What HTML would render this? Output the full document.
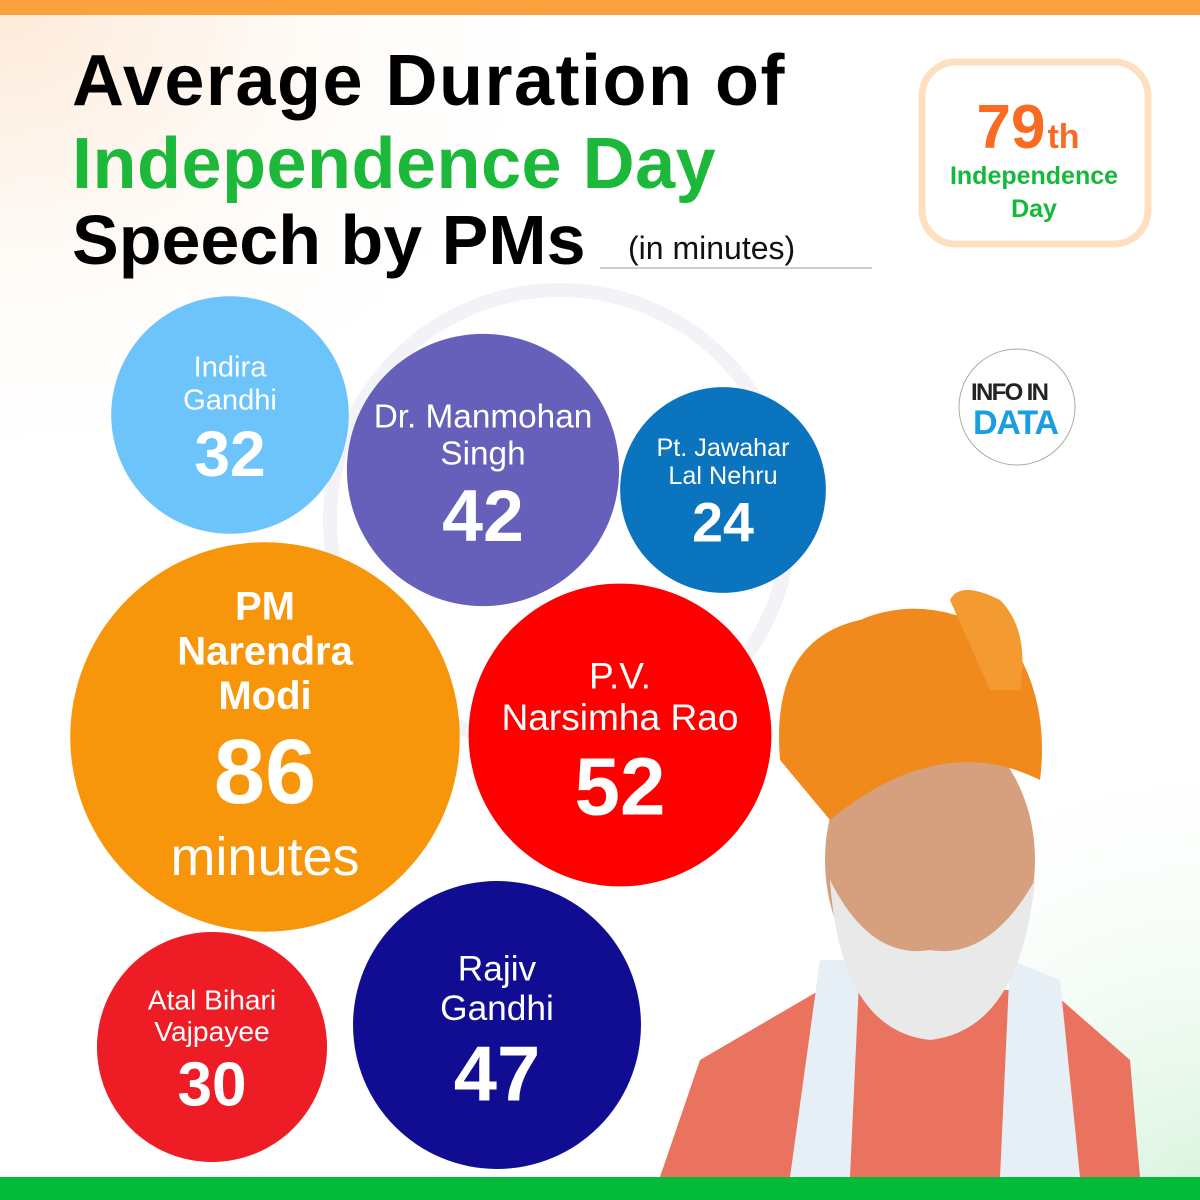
<!DOCTYPE html>
<html><head><meta charset="utf-8"><style>
body{margin:0;width:1200px;height:1200px;overflow:hidden;background:#fff;font-family:"Liberation Sans",sans-serif;position:relative}
.t{position:absolute;left:72px;font-weight:900;font-size:72px;letter-spacing:1.5px;line-height:1;white-space:nowrap}
</style></head><body>
<svg width="1200" height="1200" style="position:absolute;left:0;top:0">
<defs>
<radialGradient id="sf" cx="0" cy="0" r="1"><stop offset="0" stop-color="#fde9d6"/><stop offset="1" stop-color="#fff" stop-opacity="0"/></radialGradient>
<radialGradient id="gr" cx="1" cy="1" r="1"><stop offset="0" stop-color="#d8f3dd"/><stop offset="1" stop-color="#fff" stop-opacity="0"/></radialGradient>
</defs>
<rect width="1200" height="1200" fill="#fff"/>
<rect x="0" y="0" width="600" height="500" fill="url(#sf)"/>
<rect x="700" y="700" width="500" height="500" fill="url(#gr)"/>
<circle cx="560" cy="520" r="230" fill="none" stroke="#f3f3f7" stroke-width="14"/>
<rect x="0" y="0" width="1200" height="15" fill="#fba23f"/>
<rect x="0" y="1177" width="1200" height="23" fill="#03bb38"/>
<line x1="600" y1="268" x2="872" y2="268" stroke="#999" stroke-width="1"/>
<g id="photo">
<path d="M660 1177 L700 1060 L820 990 L1050 990 L1130 1060 L1140 1177 Z" fill="#e9735e"/>
<path d="M790 1177 L820 960 L860 960 L850 1177 Z" fill="#e6eef6"/>
<path d="M1000 1177 L1010 960 L1060 980 L1080 1177 Z" fill="#e6eef6"/>
<ellipse cx="930" cy="860" rx="105" ry="140" fill="#d6a07f"/>
<path d="M830 880 Q840 1030 930 1040 Q1020 1030 1035 880 Q990 960 930 950 Q870 960 830 880 Z" fill="#e9e9ea"/>
<path d="M780 760 Q770 640 860 620 Q930 590 1010 640 Q1050 700 1040 780 Q940 730 830 820 Z" fill="#f08a1c"/>
<path d="M950 600 Q960 580 1000 600 Q1030 630 1020 690 L990 690 Z" fill="#f39a30"/>
</g>
<g id="bubbles"></g>
<rect x="922" y="62" width="226" height="182" rx="34" fill="#fff" stroke="#fde0bf" stroke-width="7"/>
<text x="1028" y="148" text-anchor="middle" font-weight="900" font-size="62" fill="#f96a22">79<tspan font-size="34" dx="2">th</tspan></text>
<text x="1034" y="184" text-anchor="middle" font-weight="bold" font-size="25" fill="#14b83a">Independence</text>
<text x="1034" y="217" text-anchor="middle" font-weight="bold" font-size="25" fill="#14b83a">Day</text>
<circle cx="1017" cy="407" r="58" fill="#fff" stroke="#aaa" stroke-width="1"/>
<text x="1010" y="400" text-anchor="middle" font-size="24" font-weight="bold" fill="#222" textLength="78">INFO IN</text>
<text x="1016" y="434" text-anchor="middle" font-size="34" font-weight="900" fill="#1a9ee0" textLength="86">DATA</text>
</svg>
<div class="t" style="top:45px;color:#000">Average Duration of</div>
<div class="t" style="top:128px;color:#1bb83a;letter-spacing:0.5px">Independence Day</div>
<div class="t" style="top:205px;color:#000;font-size:70px;letter-spacing:0">Speech by PMs</div>
<div style="position:absolute;left:628px;top:230px;font-size:32px;color:#111">(in minutes)</div>
<script>
const names=[["Indira","Gandhi"],["Dr. Manmohan","Singh"],["Pt. Jawahar","Lal Nehru"],["PM","Narendra","Modi"],["P.V.","Narsimha Rao"],["Atal Bihari","Vajpayee"],["Rajiv","Gandhi"]];
const values=[32,42,24,86,52,30,47];
const colors=["#6cc4fb","#6660bb","#0a74bf","#f7960b","#fe0000","#ee1c25","#110d93"];
const layoutX=[230,483,723,265,620,212,497];
const layoutY=[415,470,490,737,735,1047,1025];
function rScale(v){return 21*Math.sqrt(v);}
const NS="http://www.w3.org/2000/svg";
const g=document.getElementById('bubbles');
values.forEach((v,i)=>{
 const r=rScale(v),cx=layoutX[i],cy=layoutY[i];
 const c=document.createElementNS(NS,'circle');
 c.setAttribute('cx',cx);c.setAttribute('cy',cy);c.setAttribute('r',r);c.setAttribute('fill',colors[i]);
 
 
 g.appendChild(c);
 const isModi=i===3;
 const fs=isModi?40:r*0.245;
 const nfs=isModi?92:r*0.54;
 const lines=names[i];
 const lh=fs*1.12;
 let total=lines.length*lh+nfs*0.7+(isModi?60:0);
 let y=cy-total/2+fs*0.85-(isModi?22:8);
 lines.forEach(l=>{
  const t=document.createElementNS(NS,'text');
  t.setAttribute('x',cx);t.setAttribute('y',y);t.setAttribute('text-anchor','middle');
  t.setAttribute('fill','#fff');t.setAttribute('font-size',fs);t.setAttribute('font-weight',isModi?'bold':'normal');
  t.textContent=l;
  
  
  g.appendChild(t);y+=lh;
 });
 y+=nfs*0.62-fs*0.2;
 const n=document.createElementNS(NS,'text');
 n.setAttribute('x',cx);n.setAttribute('y',y);n.setAttribute('text-anchor','middle');
 n.setAttribute('fill','#fff');n.setAttribute('font-size',nfs);n.setAttribute('font-weight','900');
 n.textContent=v;
 
 
 g.appendChild(n);
 if(isModi){
  const m=document.createElementNS(NS,'text');
  m.setAttribute('x',cx);m.setAttribute('y',y+72);m.setAttribute('text-anchor','middle');
  m.setAttribute('fill','#fff');m.setAttribute('font-size',54);
  m.textContent='minutes';
  
  
  g.appendChild(m);
 }
});
</script>
</body></html>
